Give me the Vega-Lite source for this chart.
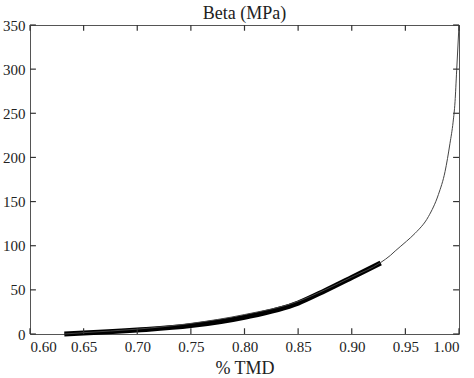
{
  "$schema": "https://vega.github.io/schema/vega-lite/v6.json",
  "width": 429,
  "height": 309,
  "autosize": {"type": "none"},
  "padding": {"left": 30, "top": 25, "right": 15, "bottom": 44},
  "background": "white",
  "config": {
    "font": "Liberation Serif",
    "view": {"stroke": null},
    "axis": {
      "grid": false,
      "domainColor": "#555555",
      "labelColor": "#222222",
      "titleColor": "#222222",
      "labelFont": "Liberation Serif",
      "titleFont": "Liberation Serif",
      "labelFontSize": 15,
      "titleFontSize": 18,
      "titleFontWeight": "normal"
    }
  },
  "title": {"text": "Beta (MPa)", "fontSize": 18, "fontWeight": "normal", "font": "Liberation Serif", "color": "#222222", "offset": -5},
  "datasets": {
    "thin": [
      {"tmd": 0.632, "beta": 0},
      {"tmd": 0.65, "beta": 1.5},
      {"tmd": 0.70, "beta": 5.5},
      {"tmd": 0.75, "beta": 12},
      {"tmd": 0.80, "beta": 22},
      {"tmd": 0.85, "beta": 37},
      {"tmd": 0.875, "beta": 50},
      {"tmd": 0.90, "beta": 64.5},
      {"tmd": 0.927, "beta": 81},
      {"tmd": 0.936, "beta": 89},
      {"tmd": 0.9405, "beta": 94},
      {"tmd": 0.951, "beta": 105},
      {"tmd": 0.959, "beta": 114},
      {"tmd": 0.9715, "beta": 133},
      {"tmd": 0.9808, "beta": 158},
      {"tmd": 0.987, "beta": 184},
      {"tmd": 0.9916, "beta": 216},
      {"tmd": 0.9945, "beta": 240},
      {"tmd": 0.9963, "beta": 263},
      {"tmd": 0.9978, "beta": 298},
      {"tmd": 1.0, "beta": 350}
    ],
    "thick": [
      {"tmd": 0.632, "beta": 0},
      {"tmd": 0.65, "beta": 1},
      {"tmd": 0.70, "beta": 4.5},
      {"tmd": 0.75, "beta": 9.5},
      {"tmd": 0.80, "beta": 19},
      {"tmd": 0.85, "beta": 35},
      {"tmd": 0.875, "beta": 49},
      {"tmd": 0.90, "beta": 64},
      {"tmd": 0.927, "beta": 80.5}
    ],
    "xticks": [
      {"v": 0.6}, {"v": 0.65}, {"v": 0.7}, {"v": 0.75}, {"v": 0.8}, {"v": 0.85}, {"v": 0.9}, {"v": 0.95}, {"v": 1.0}
    ],
    "yticks": [
      {"v": 0}, {"v": 50}, {"v": 100}, {"v": 150}, {"v": 200}, {"v": 250}, {"v": 300}, {"v": 350}
    ]
  },
  "layer": [
    {
      "data": {"name": "thick"},
      "mark": {"type": "line", "color": "#000000", "strokeWidth": 5, "strokeCap": "butt", "interpolate": "monotone"},
      "encoding": {
        "x": {"field": "tmd", "type": "quantitative", "scale": {"domain": [0.6, 1.0], "nice": false, "zero": false},
              "axis": {"orient": "bottom", "title": "% TMD", "values": [0.6, 0.65, 0.7, 0.75, 0.8, 0.85, 0.9, 0.95, 1.0], "format": ".2f", "ticks": false, "labelPadding": 5, "titlePadding": 5}},
        "y": {"field": "beta", "type": "quantitative", "scale": {"domain": [0, 350], "nice": false},
              "axis": {"orient": "left", "title": null, "values": [0, 50, 100, 150, 200, 250, 300, 350], "ticks": false, "labelPadding": 5}}
      }
    },
    {
      "data": {"name": "thin"},
      "mark": {"type": "line", "color": "#444444", "strokeWidth": 1, "interpolate": "monotone"},
      "encoding": {
        "x": {"field": "tmd", "type": "quantitative", "axis": {"orient": "top", "title": null, "labels": false, "ticks": false}},
        "y": {"field": "beta", "type": "quantitative", "axis": {"orient": "right", "title": null, "labels": false, "ticks": false}}
      }
    },
    {
      "data": {"name": "xticks"},
      "mark": {"type": "rule", "color": "#333333", "strokeWidth": 1.2},
      "encoding": {
        "x": {"field": "v", "type": "quantitative", "axis": null},
        "y": {"datum": 0, "axis": null},
        "y2": {"datum": 6.5}
      }
    },
    {
      "data": {"name": "xticks"},
      "mark": {"type": "rule", "color": "#333333", "strokeWidth": 1.2},
      "encoding": {
        "x": {"field": "v", "type": "quantitative", "axis": null},
        "y": {"datum": 350, "axis": null},
        "y2": {"datum": 343.5}
      }
    },
    {
      "data": {"name": "yticks"},
      "mark": {"type": "rule", "color": "#333333", "strokeWidth": 1.2},
      "encoding": {
        "y": {"field": "v", "type": "quantitative", "axis": null},
        "x": {"datum": 0.6, "axis": null},
        "x2": {"datum": 0.6055}
      }
    },
    {
      "data": {"name": "yticks"},
      "mark": {"type": "rule", "color": "#333333", "strokeWidth": 1.2},
      "encoding": {
        "y": {"field": "v", "type": "quantitative", "axis": null},
        "x": {"datum": 1.0, "axis": null},
        "x2": {"datum": 0.9945}
      }
    }
  ],
  "resolve": {"axis": {"x": "independent", "y": "independent"}}
}
